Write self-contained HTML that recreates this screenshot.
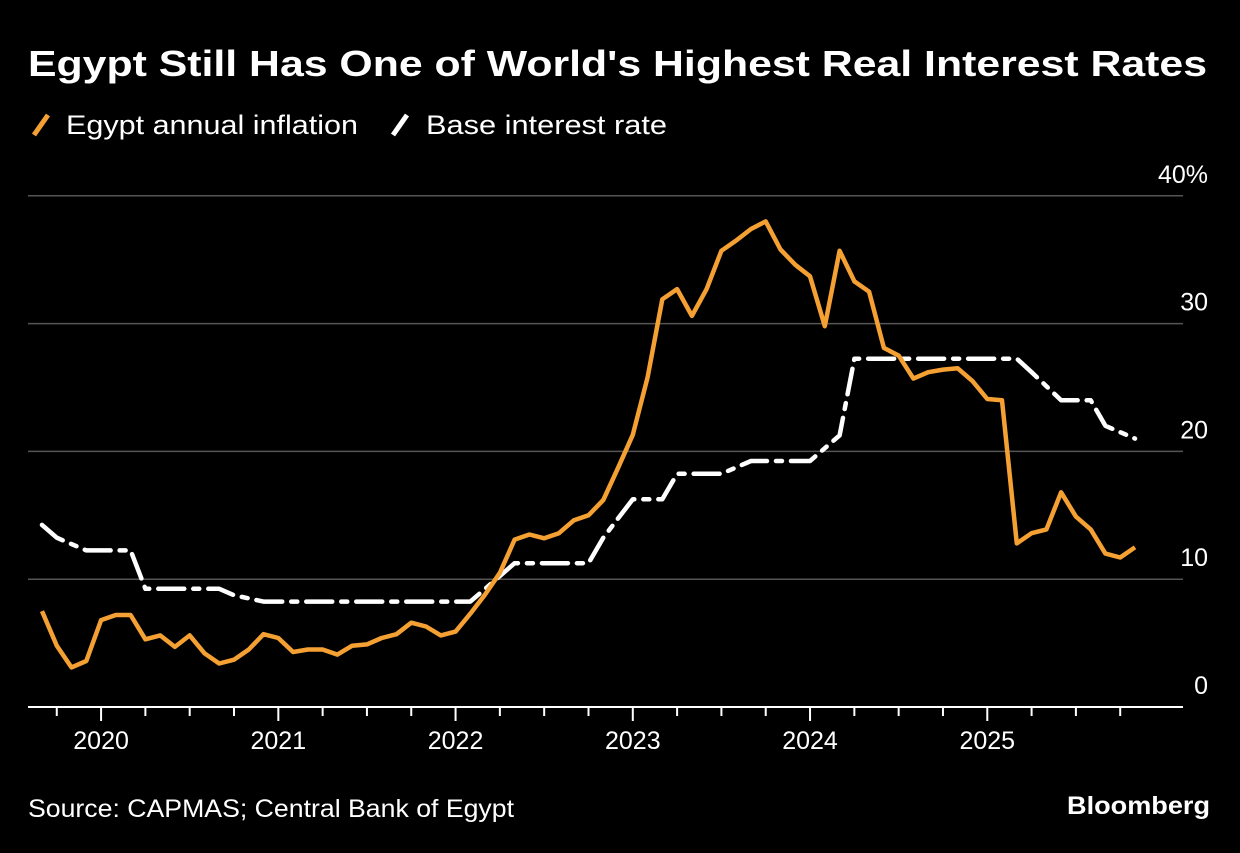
<!DOCTYPE html>
<html><head><meta charset="utf-8"><style>
html,body{margin:0;padding:0;background:#000;}
body{width:1240px;height:848px;overflow:hidden;font-family:"Liberation Sans",sans-serif;}
svg text{font-family:"Liberation Sans",sans-serif;}
</style></head><body>
<svg id="chart" width="1240" height="848" viewBox="0 0 1240 848" xmlns="http://www.w3.org/2000/svg">
<rect width="1240" height="848" fill="#000"/>
<text x="28" y="76" fill="#fff" font-size="36" font-weight="bold" textLength="1179" lengthAdjust="spacingAndGlyphs">Egypt Still Has One of World's Highest Real Interest Rates</text>
<g>
<line x1="34" y1="135" x2="48" y2="115" stroke="#f5a033" stroke-width="5"/>
<text x="66" y="134" fill="#fff" font-size="27" textLength="292" lengthAdjust="spacingAndGlyphs">Egypt annual inflation</text>
<line x1="393" y1="135" x2="407" y2="115" stroke="#fff" stroke-width="5"/>
<text x="426" y="134" fill="#fff" font-size="27" textLength="241" lengthAdjust="spacingAndGlyphs">Base interest rate</text>
</g>
<g id="grid"></g>
<g id="xaxis"></g>
<g id="series"></g>
<text x="28" y="817" fill="#fff" font-size="25" textLength="486" lengthAdjust="spacingAndGlyphs">Source: CAPMAS; Central Bank of Egypt</text>
<text x="1067" y="814" fill="#fff" font-size="25" font-weight="bold" textLength="143" lengthAdjust="spacingAndGlyphs">Bloomberg</text>
</svg>
<script>
const yTicks=[0,10,20,30,40];
const yTickLabels=["0","10","20","30","40%"];
const yearLabels=["2020","2021","2022","2023","2024","2025"];
const inflation=[7.5,4.8,3.1,3.6,6.8,
7.2,7.2,5.3,5.6,4.7,5.6,4.2,3.4,3.7,4.5,5.7,5.4,
4.3,4.5,4.5,4.1,4.8,4.9,5.4,5.7,6.6,6.3,5.6,5.9,
7.3,8.8,10.5,13.1,13.5,13.2,13.6,14.6,15.0,16.2,18.7,21.3,
25.8,31.9,32.7,30.6,32.7,35.7,36.5,37.4,38.0,35.8,34.6,33.7,
29.8,35.7,33.3,32.5,28.1,27.5,25.7,26.2,26.4,26.5,25.5,24.1,
24.0,12.8,13.6,13.9,16.8,14.9,13.9,12.0,11.7,12.5];
const baseRate=[14.25,13.25,12.75,12.25,12.25,
12.25,12.25,9.25,9.25,9.25,9.25,9.25,9.25,8.75,8.5,8.25,8.25,
8.25,8.25,8.25,8.25,8.25,8.25,8.25,8.25,8.25,8.25,8.25,8.25,
8.25,9.25,10.25,11.25,11.25,11.25,11.25,11.25,11.25,13.25,14.75,16.25,
16.25,16.25,18.25,18.25,18.25,18.25,18.75,19.25,19.25,19.25,19.25,19.25,
20.25,21.25,27.25,27.25,27.25,27.25,27.25,27.25,27.25,27.25,27.25,27.25,
27.25,27.25,26.2,25.1,24,24,24,22,21.5,21];
const NS="http://www.w3.org/2000/svg";
const X0=42,DX=14.77,Y0=707,DY=12.78;
function xs(i){return X0+i*DX;}
function ys(v){return Y0-v*DY;}
function mk(tag,attrs,parent){const e=document.createElementNS(NS,tag);for(const k in attrs)e.setAttribute(k,attrs[k]);parent.appendChild(e);return e;}
const grid=document.getElementById('grid');
yTicks.forEach((t,k)=>{
  if(t>0){const l=mk('line',{x1:28,x2:1183,y1:ys(t),y2:ys(t),stroke:'#555','stroke-width':1.5},grid);
  
  }
  const tx=mk('text',{x:1208,y:ys(t)-13,fill:'#fff','font-size':25,'text-anchor':'end'},grid);
  tx.textContent=yTickLabels[k];
  
  
});
const xa=document.getElementById('xaxis');
const ax=mk('line',{x1:28,x2:1183,y1:Y0,y2:Y0,stroke:'#fff','stroke-width':2},xa);


for(let q=-1;q<24;q++){
  const x=xs(4)+q*3*DX;
  if(x<30||x>1180)continue;
  const major=(q%4===0);
  const t=mk('line',{x1:x,x2:x,y1:Y0,y2:Y0+(major?14:9),stroke:'#fff','stroke-width':2},xa);
  
  
}
yearLabels.forEach((y,k)=>{
  const tx=mk('text',{x:xs(4)+k*12*DX,y:749,fill:'#fff','font-size':25,'text-anchor':'middle'},xa);
  tx.textContent=y;
  
  
});
const sg=document.getElementById('series');
function pts(arr){return arr.map((v,i)=>xs(i).toFixed(1)+','+ys(v).toFixed(1)).join(' ');}
const rl=mk('polyline',{points:pts(baseRate),fill:'none',stroke:'#fff','stroke-width':4.5,'stroke-dasharray':'26 9 6 9','stroke-linejoin':'round','stroke-linecap':'round'},sg);


const il=mk('polyline',{points:pts(inflation),fill:'none',stroke:'#f5a033','stroke-width':4.5,'stroke-linejoin':'round'},sg);


</script>
</body></html>
